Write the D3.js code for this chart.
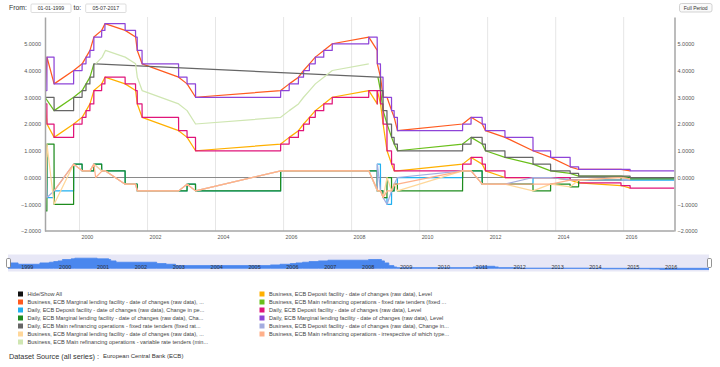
<!DOCTYPE html>
<html>
<head>
<meta charset="utf-8">
<script src="https://cdn.jsdelivr.net/npm/d3@7"></script>
<style>
  body { margin: 0; background: #fff; font-family: "Liberation Sans", Arial, sans-serif; }
  svg { display: block; }
</style>
</head>
<body>
<svg id="chart" width="720" height="367"></svg>
<script>
// ─── Data: ECB key interest rates, dates of change ───
const startDate = "1999-01-01";
const endDate = "2017-07-05";

// deposit + marginal lending facility share the same change dates
const facilityDates = [
  "1999-01-01","1999-01-04","1999-01-22","1999-04-09","1999-11-05",
  "2000-02-04","2000-03-17","2000-04-28","2000-06-09","2000-09-01","2000-10-06",
  "2001-05-11","2001-08-31","2001-09-18","2001-11-09",
  "2002-12-06","2003-03-07","2003-06-06",
  "2005-12-06","2006-03-08","2006-06-15","2006-08-09","2006-10-11","2006-12-13","2007-03-14","2007-06-13","2008-07-09",
  "2008-10-08","2008-10-09","2008-11-12","2008-12-10",
  "2009-01-21","2009-03-11","2009-04-08","2009-05-13",
  "2011-04-13","2011-07-13","2011-11-09","2011-12-14",
  "2012-07-11","2013-05-08","2013-11-13",
  "2014-06-11","2014-09-10","2015-12-09","2016-03-16"
];
const depositLevel = [
  2.00, 2.75, 2.00, 1.50, 2.00,
  2.25, 2.50, 2.75, 3.25, 3.50, 3.75,
  3.50, 3.25, 2.75, 2.25,
  1.75, 1.50, 1.00,
  1.25, 1.50, 1.75, 2.00, 2.25, 2.50, 2.75, 3.00, 3.25,
  2.75, 3.25, 2.75, 2.00,
  1.00, 0.50, 0.25, 0.25,
  0.50, 0.75, 0.50, 0.25,
  0.00, 0.00, 0.00,
  -0.10, -0.20, -0.30, -0.40
];
const depositChange = [
  null, 0.75, -0.75, -0.50, 0.50,
  0.25, 0.25, 0.25, 0.50, 0.25, 0.25,
  -0.25, -0.25, -0.50, -0.50,
  -0.50, -0.25, -0.50,
  0.25, 0.25, 0.25, 0.25, 0.25, 0.25, 0.25, 0.25, 0.25,
  -0.50, 0.50, -0.50, -0.75,
  -1.00, -0.50, -0.25, 0.00,
  0.25, 0.25, -0.25, -0.25,
  -0.25, 0.00, 0.00,
  -0.10, -0.10, -0.10, -0.10
];
const marginalLevel = [
  4.50, 3.25, 4.50, 3.50, 4.00,
  4.25, 4.50, 4.75, 5.25, 5.50, 5.75,
  5.50, 5.25, 4.75, 4.25,
  3.75, 3.50, 3.00,
  3.25, 3.50, 3.75, 4.00, 4.25, 4.50, 4.75, 5.00, 5.25,
  4.75, 4.25, 3.75, 3.00,
  3.00, 2.50, 2.25, 1.75,
  2.00, 2.25, 2.00, 1.75,
  1.50, 1.00, 0.75,
  0.40, 0.30, 0.30, 0.25
];
const marginalChange = [
  null, -1.25, 1.25, -1.00, 0.50,
  0.25, 0.25, 0.25, 0.50, 0.25, 0.25,
  -0.25, -0.25, -0.50, -0.50,
  -0.50, -0.25, -0.50,
  0.25, 0.25, 0.25, 0.25, 0.25, 0.25, 0.25, 0.25, 0.25,
  -0.50, -0.50, -0.50, -0.75,
  0.00, -0.50, -0.25, -0.50,
  0.25, 0.25, -0.25, -0.25,
  -0.25, -0.50, -0.25,
  -0.35, -0.10, 0.00, -0.05
];

// main refinancing operations
const mroDates = [
  "1999-01-01","1999-04-09","1999-11-05",
  "2000-02-04","2000-03-17","2000-04-28","2000-06-09","2000-06-28","2000-09-06","2000-10-11",
  "2001-05-11","2001-08-31","2001-09-18","2001-11-09",
  "2002-12-06","2003-03-07","2003-06-06",
  "2005-12-06","2006-03-08","2006-06-15","2006-08-09","2006-10-11","2006-12-13","2007-03-14","2007-06-13","2008-07-09",
  "2008-10-15","2008-11-12","2008-12-10",
  "2009-01-21","2009-03-11","2009-04-08","2009-05-13",
  "2011-04-13","2011-07-13","2011-11-09","2011-12-14",
  "2012-07-11","2013-05-08","2013-11-13",
  "2014-06-11","2014-09-10","2015-12-09","2016-03-16"
];
const mroFixedLevel = [
  3.00, 2.50, 3.00,
  3.25, 3.50, 3.75, 4.25, null, null, null,
  null, null, null, null,
  null, null, null,
  null, null, null, null, null, null, null, null, null,
  3.75, 3.25, 2.50,
  2.00, 1.50, 1.25, 1.00,
  1.25, 1.50, 1.25, 1.00,
  0.75, 0.50, 0.25,
  0.15, 0.05, 0.05, 0.00
];
const mroVariableLevel = [
  null, null, null,
  null, null, null, null, 4.25, 4.50, 4.75,
  4.50, 4.25, 3.75, 3.25,
  2.75, 2.50, 2.00,
  2.25, 2.50, 2.75, 3.00, 3.25, 3.50, 3.75, 4.00, 4.25,
  null, null, null,
  null, null, null, null,
  null, null, null, null,
  null, null, null,
  null, null, null, null
];
const mroChange = [
  null, -0.50, 0.50,
  0.25, 0.25, 0.25, 0.50, 0.00, 0.25, 0.25,
  -0.25, -0.25, -0.50, -0.50,
  -0.50, -0.25, -0.50,
  0.25, 0.25, 0.25, 0.25, 0.25, 0.25, 0.25, 0.25, 0.25,
  -0.50, -0.50, -0.75,
  -0.50, -0.50, -0.25, -0.25,
  0.25, 0.25, -0.25, -0.25,
  -0.25, -0.25, -0.25,
  -0.10, -0.10, 0.00, -0.05
];

// ─── Ticks / labels ───
const yTicks = [-2, -1, 0, 1, 2, 3, 4, 5];
const xTickYears = [2000, 2002, 2004, 2006, 2008, 2010, 2012, 2014, 2016];
const navYears = [1999, 2000, 2001, 2002, 2003, 2004, 2005, 2006, 2007, 2008,
  2009, 2010, 2011, 2012, 2013, 2014, 2015, 2016];

// series in legend order (row-major, after "Hide/Show All")
const series = [
  { label: "Business, ECB Deposit facility - date of changes (raw data), Level", color: "#ffb000", kind: "business", dates: facilityDates, values: depositLevel },
  { label: "Business, ECB Marginal lending facility - date of changes (raw data), ...", color: "#ff5a1f", kind: "business", dates: facilityDates, values: marginalLevel },
  { label: "Business, ECB Main refinancing operations - fixed rate tenders (fixed ...", color: "#6abf1a", kind: "business", dates: mroDates, values: mroFixedLevel },
  { label: "Daily, ECB Deposit facility - date of changes (raw data), Change in pe...", color: "#22b0f0", kind: "daily", dates: facilityDates, values: depositChange },
  { label: "Daily, ECB Deposit facility - date of changes (raw data), Level", color: "#e0157a", kind: "daily", dates: facilityDates, values: depositLevel },
  { label: "Daily, ECB Marginal lending facility - date of changes (raw data), Cha...", color: "#1e8c1e", kind: "daily", dates: facilityDates, values: marginalChange },
  { label: "Daily, ECB Marginal lending facility - date of changes (raw data), Level", color: "#8e44d8", kind: "daily", dates: facilityDates, values: marginalLevel },
  { label: "Daily, ECB Main refinancing operations - fixed rate tenders (fixed rat...", color: "#666666", kind: "daily", dates: mroDates, values: mroFixedLevel },
  { label: "Business, ECB Deposit facility - date of changes (raw data), Change in...", color: "#a3acdf", kind: "business", dates: facilityDates, values: depositChange },
  { label: "Business, ECB Marginal lending facility - date of changes (raw data), ...", color: "#ffd79a", kind: "business", dates: facilityDates, values: marginalChange },
  { label: "Business, ECB Main refinancing operations - irrespective of which type...", color: "#ffb08a", kind: "business", dates: mroDates, values: mroChange },
  { label: "Business, ECB Main refinancing operations - variable rate tenders (min...", color: "#cfe6b2", kind: "business", dates: mroDates, values: mroVariableLevel },
];

// ─── Helpers ───
const parse = d3.utcParse("%Y-%m-%d");
const ONE_DAY = 864e5;
const FONT = '"Liberation Sans", Arial, sans-serif';

// business: only the change dates, joined by straight lines (gaps stay open)
function businessPoints(dates, values) {
  let i0 = values.findIndex((v) => v != null);
  let i1 = values.length - 1;
  while (i1 > 0 && values[i1] == null) i1--;
  return dates.slice(i0, i1 + 1).map((d, k) => [parse(d), values[i0 + k]]);
}

// daily: value held until the next change, carried to the end date
function dailyPoints(dates, values) {
  const pts = [];
  let prev = null;
  dates.forEach((d, i) => {
    const t = parse(d);
    const v = values[i];
    if (prev != null) pts.push([new Date(+t - ONE_DAY), prev]);
    if (v != null) pts.push([t, v]);
    prev = v;
  });
  if (prev != null) pts.push([parse(endDate), prev]);
  return pts;
}

// ─── Layout ───
const svg = d3.select("#chart");
const plot = { left: 45, right: 674.5, top: 17, bottom: 231 };
const nav = { left: 8, right: 709, top: 254.5, bottom: 271.5 };

const x = d3.scaleUtc()
  .domain([parse(startDate), parse(endDate)])
  .range([plot.left, plot.right]);
const y = d3.scaleLinear().domain([-2, 6]).range([plot.bottom, plot.top]);
const fmt = d3.format(".4f");

// ─── Top controls ───
const gTop = svg.append("g").style("font-family", FONT);
gTop.append("text").attr("x", 9).attr("y", 8).attr("dy", "0.35em")
  .style("font-size", "6.9px").style("fill", "#333").text("From:");
gTop.append("text").attr("x", 73.5).attr("y", 8).attr("dy", "0.35em")
  .style("font-size", "6.9px").style("fill", "#333").text("to:");
[[31, 71, "01-01-1999"], [85.7, 126, "05-07-2017"]].forEach(([a, b, t]) => {
  gTop.append("rect").attr("x", a).attr("y", 4).attr("width", b - a).attr("height", 8.5)
    .attr("rx", 1).attr("fill", "#fff").attr("stroke", "#d4d4d4").attr("stroke-width", 0.8);
  gTop.append("text").attr("x", (a + b) / 2).attr("y", 8.3).attr("dy", "0.35em")
    .attr("text-anchor", "middle").style("font-size", "5.2px").style("fill", "#333").text(t);
});
gTop.append("rect").attr("x", 679.5).attr("y", 3.5).attr("width", 32.5).attr("height", 8.5)
  .attr("rx", 2).attr("fill", "#fafafa").attr("stroke", "#c8c8c8").attr("stroke-width", 0.8);
gTop.append("text").attr("x", 695.7).attr("y", 7.8).attr("dy", "0.35em")
  .attr("text-anchor", "middle").style("font-size", "5px").style("fill", "#333").text("Full Period");

// ─── Grid ───
const yearDates = xTickYears.map((yr) => new Date(Date.UTC(yr, 0, 1)));
svg.append("g")
  .attr("transform", `translate(0,${plot.bottom})`)
  .call(d3.axisBottom(x).tickValues(yearDates).tickSize(-(plot.bottom - plot.top)).tickFormat(""))
  .call((g) => g.select(".domain").remove())
  .call((g) => g.selectAll("line").attr("stroke", "#e6e6e6").attr("stroke-width", 1));

// zero line
svg.append("line")
  .attr("x1", plot.left).attr("x2", plot.right)
  .attr("y1", y(0)).attr("y2", y(0))
  .attr("stroke", "#8a8a8a").attr("stroke-width", 1);

// ─── Series ───
svg.append("clipPath").attr("id", "plot-clip")
  .append("rect")
  .attr("x", plot.left).attr("y", plot.top)
  .attr("width", plot.right - plot.left).attr("height", plot.bottom - plot.top);

const line = d3.line()
  .defined((d) => d[1] != null)
  .x((d) => x(d[0]))
  .y((d) => y(d[1]));
const gLines = svg.append("g").attr("clip-path", "url(#plot-clip)");
series.forEach((s) => {
  const pts = s.kind === "daily" ? dailyPoints(s.dates, s.values) : businessPoints(s.dates, s.values);
  gLines.append("path")
    .datum(pts)
    .attr("fill", "none")
    .attr("stroke", s.color)
    .attr("stroke-width", 1.25)
    .attr("stroke-linejoin", "round")
    .attr("d", line);
});

// ─── Axes ───
const axisStyle = (g) => {
  g.select(".domain").attr("stroke", "#a6a6a6").attr("stroke-width", 1.5);
  g.selectAll("text").style("font-size", "5.5px").style("fill", "#555").style("font-family", FONT);
};
svg.append("g")
  .attr("transform", `translate(${plot.left},0)`)
  .call(d3.axisLeft(y).tickValues(yTicks).tickFormat(fmt).tickSize(0).tickPadding(4))
  .call(axisStyle);
svg.append("g")
  .attr("transform", `translate(${plot.right},0)`)
  .call(d3.axisRight(y).tickValues(yTicks).tickFormat(fmt).tickSize(0).tickPadding(3))
  .call(axisStyle);
svg.append("g")
  .attr("transform", `translate(0,${plot.bottom})`)
  .call(d3.axisBottom(x).tickValues(yearDates).tickFormat(d3.utcFormat("%Y")).tickSize(0).tickPadding(4.5))
  .call(axisStyle)
  .call((g) => g.select(".domain").attr("d", `M${plot.left},0H${plot.right}`))
  .call((g) => g.selectAll("text").attr("text-anchor", "start").attr("x", 2).style("font-size", "5.3px"));

// ─── Navigator ───
const navX = d3.scaleUtc()
  .domain([parse(startDate), parse(endDate)])
  .range([nav.left, nav.right]);
const navY = d3.scaleLinear().domain([0, 5]).range([268.3, 254.8]);

svg.append("rect")
  .attr("x", nav.left).attr("y", nav.top)
  .attr("width", nav.right - nav.left).attr("height", nav.bottom - nav.top)
  .attr("fill", "#e7e7f6");

svg.append("clipPath").attr("id", "nav-clip")
  .append("rect")
  .attr("x", nav.left).attr("y", nav.top)
  .attr("width", nav.right - nav.left).attr("height", nav.bottom - nav.top);

const navPts = dailyPoints(facilityDates, depositLevel);
svg.append("path")
  .datum(navPts)
  .attr("clip-path", "url(#nav-clip)")
  .attr("fill", "#4a87ee")
  .attr("stroke", "#4a87ee")
  .attr("stroke-width", 0.8)
  .attr("d", d3.area().x((d) => navX(d[0])).y0(navY(0)).y1((d) => navY(d[1])));

svg.append("g")
  .attr("transform", `translate(0,${nav.top + 10.3})`)
  .call(d3.axisBottom(navX)
    .tickValues(navYears.map((yr) => new Date(Date.UTC(yr, 6, 1))))
    .tickFormat(d3.utcFormat("%Y")).tickSize(0).tickPadding(0))
  .call((g) => g.select(".domain").remove())
  .call((g) => g.selectAll("text").style("font-size", "5.5px").style("fill", "#333").style("font-family", FONT));

[nav.left + 0.5, nav.right + 0.5].forEach((hx) => {
  svg.append("rect")
    .attr("x", hx - 2).attr("y", 258.5).attr("width", 4).attr("height", 9)
    .attr("rx", 1.2).attr("fill", "#fff").attr("stroke", "#666").attr("stroke-width", 0.7);
});

// ─── Legend ───
const legendItems = [{ label: "Hide/Show All", color: "#111" }, ...series];
const gLegend = svg.append("g").style("font-family", FONT);
legendItems.forEach((item, i) => {
  const col = i % 2;
  const row = Math.floor(i / 2);
  const lx = col === 0 ? 18 : 259.5;
  const ly = 294 + row * 8;
  gLegend.append("rect")
    .attr("x", lx).attr("y", ly - 2.5).attr("width", 5).attr("height", 5)
    .attr("fill", item.color);
  gLegend.append("text")
    .attr("x", lx + 9.5).attr("y", ly).attr("dy", "0.35em")
    .style("font-size", "5.6px").style("fill", "#444")
    .text(item.label);
});

// ─── Source ───
svg.append("text")
  .attr("x", 9).attr("y", 356).attr("dy", "0.35em")
  .style("font-size", "7.3px").style("fill", "#333").style("font-family", FONT)
  .text("Dataset Source (all series) :");
svg.append("text")
  .attr("x", 103).attr("y", 356).attr("dy", "0.35em")
  .style("font-size", "6px").style("fill", "#333").style("font-family", FONT)
  .text("European Central Bank (ECB)");
</script>
</body>
</html>
